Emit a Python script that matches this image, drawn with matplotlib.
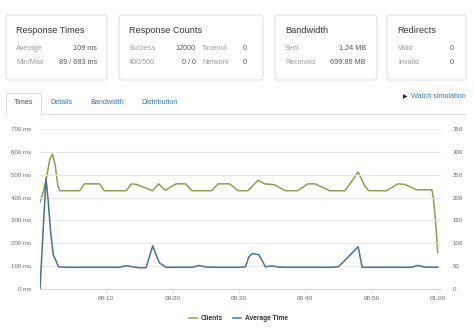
import matplotlib.pyplot as plt
from matplotlib.patches import FancyBboxPatch
from matplotlib.lines import Line2D

plt.rcParams['font.family'] = ['Liberation Sans', 'DejaVu Sans']

# summary cards
card_titles = ['Response Times', 'Response Counts', 'Bandwidth', 'Redirects']
rt_labels = ['Average', 'Min/Max']
rt_values = ['109 ms', '89 / 683 ms']
rc_labels = ['Success', '400/500']
rc_values = ['12000', '0 / 0']
rc_labels2 = ['Timeout', 'Network']
rc_values2 = ['0', '0']
bw_labels = ['Sent', 'Received']
bw_values = ['1.24 MB', '699.86 MB']
rd_labels = ['Valid', 'Invalid']
rd_values = ['0', '0']
tabs = ['Times', 'Details', 'Bandwidth', 'Distribution']

# chart data (seconds)
avg_t = [0, 0.9, 1.25, 1.6, 2, 2.8, 4, 8, 12, 13, 14, 15, 16, 16.5, 17, 17.5, 18, 19, 23, 24, 25, 26,
         30, 31, 31.5, 32, 33, 33.5, 34, 35, 36, 37, 44, 45, 46, 47, 48, 48.6, 52, 56, 57, 58, 60]
avg_ms = [0, 485, 380, 250, 150, 97, 95, 95, 95, 102, 97, 93, 93, 140, 189, 150, 115, 95, 95, 103, 96, 95,
          95, 97, 140, 155, 150, 125, 97, 101, 96, 95, 95, 97, 125, 155, 185, 95, 95, 95, 103, 96, 95]

cl_t = [0, 0.5, 1, 1.5, 1.9, 2.3, 2.7, 3, 6, 6.3, 6.7, 9, 9.35, 9.7, 13, 13.8, 14.5, 17, 17.9,
        18.9, 20.5, 22, 22.9, 25.9, 26.9, 28.6, 29.9, 31.4, 32.9, 33.9, 35.4, 37, 38.9, 40.4,
        41.5, 43.7, 46, 47, 48, 49, 49.6, 52.3, 54, 55, 56.8, 59.1, 59.3, 59.55, 59.8, 60]
clients = [190, 212, 245, 285, 295, 270, 225, 215, 215, 222, 230, 230, 222, 215, 215, 230, 229,
           215, 230, 216, 230, 230, 215, 215, 230, 230, 215, 215, 238, 230, 228, 215, 215, 230,
           230, 215, 215, 235, 256, 225, 215, 215, 230, 229, 217, 217, 205, 169, 125, 80]

W, H = 474, 334
fig = plt.figure(figsize=(W / 100, H / 100), dpi=100)

# overlay in pixel coordinates
bg = fig.add_axes([0, 0, 1, 1])
bg.set_xlim(0, W)
bg.set_ylim(H, 0)
bg.axis('off')

cards = [(6, 107), (119, 263), (275, 377), (387, 466)]
for (x0, x1), title in zip(cards, card_titles):
    bg.add_patch(FancyBboxPatch((x0, 15), x1 - x0, 65, boxstyle='round,pad=0,rounding_size=3',
                                fc='white', ec='#e2e2e2', lw=0.8))
    bg.text(x0 + 10, 30.5, title, fontsize=6.6, color='#333333', va='center')

lab_c = '#9a9a9a'
val_c = '#555555'
rows_y = [48, 62.3]
for i, y in enumerate(rows_y):
    bg.text(16, y, rt_labels[i], fontsize=5.2, color=lab_c, va='center')
    bg.text(97, y, rt_values[i], fontsize=5.2, color=val_c, va='center', ha='right')
    bg.text(129, y, rc_labels[i], fontsize=5.2, color=lab_c, va='center')
    bg.text(196, y, rc_values[i], fontsize=5.2, color=val_c, va='center', ha='right')
    bg.text(202, y, rc_labels2[i], fontsize=5.2, color=lab_c, va='center')
    bg.text(247, y, rc_values2[i], fontsize=5.2, color=val_c, va='center', ha='right')
    bg.text(285, y, bw_labels[i], fontsize=5.2, color=lab_c, va='center')
    bg.text(366, y, bw_values[i], fontsize=5.2, color=val_c, va='center', ha='right')
    bg.text(398, y, rd_labels[i], fontsize=5.2, color=lab_c, va='center')
    bg.text(454, y, rd_values[i], fontsize=5.2, color=val_c, va='center', ha='right')

# tabs
bg.plot([6, 6, 41, 41], [113.5, 93, 93, 113.5], color='#dddddd', lw=0.8)
bg.plot([41, 466], [113.5, 113.5], color='#dddddd', lw=0.8)
tab_x = [14, 50, 90, 141]
for x, t in zip(tab_x, tabs):
    bg.text(x, 103, t, fontsize=5.2, va='center', color='#555555' if t == 'Times' else '#337ab7')
bg.text(403, 97, '\u25b6', fontsize=4.2, va='center', color='#222222', family='DejaVu Sans')
bg.text(411, 97, 'Watch simulation', fontsize=5.2, va='center', color='#337ab7')

# chart
green = '#8c9f48'
blue = '#47709c'
ax = fig.add_axes([40 / W, 1 - 289 / H, 401 / W, 160 / H])
ax.set_xlim(0, 60.5)
ax.set_ylim(0, 700)
ax.set_yticks(range(0, 701, 100))
ax.set_yticklabels([f'{v} ms' for v in range(0, 701, 100)])
ax.set_xticks([10, 20, 30, 40, 50, 60])
ax.set_xticklabels(['00:10', '00:20', '00:30', '00:40', '00:50', '01:00'])
ax.grid(axis='y', color='#e6e6e6', lw=0.8)
ax.set_axisbelow(True)
for s in ax.spines.values():
    s.set_visible(False)
ax.spines['bottom'].set_visible(True)
ax.spines['bottom'].set_color('#ccd6eb')
ax.spines['bottom'].set_linewidth(0.8)
ax.tick_params(axis='y', length=0, pad=6.5, labelsize=4.4, labelcolor='#666666')
ax.tick_params(axis='x', length=3, width=0.6, color='#ccd6eb', pad=2, labelsize=4.6, labelcolor='#666666')

ax2 = ax.twinx()
ax2.set_ylim(0, 350)
ax2.set_yticks(range(0, 351, 50))
for s in ax2.spines.values():
    s.set_visible(False)
ax2.tick_params(axis='y', length=0, pad=8.6, labelsize=4.4, labelcolor='#666666')

ax2.plot(cl_t, clients, color=green, lw=1.1, zorder=2, solid_joinstyle='round')
ax.set_zorder(ax2.get_zorder() + 1)
ax.patch.set_visible(False)
ax.plot(avg_t, avg_ms, color=blue, lw=1.1, zorder=3, solid_joinstyle='round')

handles = [Line2D([], [], color=green, lw=1.1), Line2D([], [], color=blue, lw=1.1)]
fig.legend(handles, ['Clients', 'Average Time'], loc='center', bbox_to_anchor=(238.5 / W, 1 - 319 / H),
           ncol=2, frameon=False, handlelength=1.1, handletextpad=0.6, columnspacing=1.6,
           prop={'size': 4.8, 'weight': 'bold'}, labelcolor='#333333')

fig.savefig('out.png', dpi=100, facecolor='white')
